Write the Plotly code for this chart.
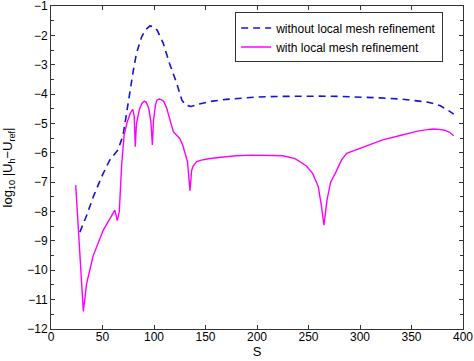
import plotly.graph_objects as go

s_without = [28, 35, 41, 50, 57, 65, 70, 73, 77, 80, 83, 88, 92, 96, 99, 103, 109, 115, 122, 127,
             131, 136, 145, 155, 170, 185, 200, 220, 240, 260, 280, 300, 320, 340, 355, 365, 372, 378, 384, 391]
err_without = [-8.7, -8.1, -7.5, -6.75, -6.25, -5.9, -5.4, -4.7, -3.86, -3.18, -2.61, -2.05, -1.8, -1.68, -1.7,
               -1.82, -2.27, -2.95, -3.63, -4.2, -4.38, -4.42, -4.33, -4.25, -4.18, -4.14, -4.1, -4.08, -4.07,
               -4.07, -4.08, -4.1, -4.13, -4.17, -4.22, -4.27, -4.33, -4.4, -4.52, -4.68]

s_with = [24, 31.4, 34.6, 41, 50.8, 56, 62, 64.4, 66.3, 68.6, 71, 74, 77, 79.3, 80.8, 81.8, 83, 86, 88.5, 90.6,
          92.5, 95, 97, 98.4, 99.5, 101.5, 103, 105.2, 107.5, 109.7, 112.5, 115.5, 118.8, 122, 125, 128, 130,
          132.5, 135, 136.5, 138, 141.4, 146, 153, 165, 180, 195, 212, 225, 237, 248, 254, 259.5, 262.5, 265,
          268, 271.5, 276, 282, 287, 300, 322, 340, 355, 365, 371, 377, 382, 387, 391]
err_with = [-7.1, -11.4, -10.45, -9.5, -8.63, -8.3, -7.95, -8.31, -8.0, -6.4, -5.4, -4.95, -4.65, -4.52, -4.75,
            -5.79, -5.0, -4.5, -4.3, -4.24, -4.28, -4.5, -4.95, -5.73, -4.9, -4.35, -4.2, -4.17, -4.2, -4.26,
            -4.5, -4.88, -5.28, -5.4, -5.51, -5.75, -5.96, -6.3, -7.29, -6.6, -6.45, -6.3, -6.25, -6.2, -6.15,
            -6.1, -6.08, -6.08, -6.1, -6.2, -6.45, -6.7, -7.15, -7.8, -8.46, -7.6, -7.0, -6.7, -6.25, -6.02,
            -5.85, -5.56, -5.4, -5.27, -5.21, -5.19, -5.2, -5.23, -5.3, -5.42]

x_ticks = [0, 50, 100, 150, 200, 250, 300, 350, 400]
y_ticks = [-1, -2, -3, -4, -5, -6, -7, -8, -9, -10, -11, -12]

fig = go.Figure()
fig.add_trace(go.Scatter(x=s_without, y=err_without, mode="lines",
                         name="without local mesh refinement",
                         line=dict(color="#1414d8", width=1.6, dash="7px,5px")))
fig.add_trace(go.Scatter(x=s_with, y=err_with, mode="lines",
                         name="with local mesh refinement",
                         line=dict(color="#ff00ff", width=1.4)))

axis_common = dict(showgrid=False, zeroline=False, showline=True, linecolor="#333", linewidth=1,
                   mirror="ticks", ticks="inside", ticklen=4, tickcolor="#333", automargin=False,
                   ticklabeloverflow="allow",
                   tickfont=dict(family="Liberation Sans, Arial, sans-serif", size=12, color="black"))

fig.update_xaxes(range=[0, 400], tickvals=x_ticks, ticktext=[str(v) for v in x_ticks],
                 ticklabelstandoff=-3,
                 title=dict(text="S", font=dict(family="Liberation Sans, Arial", size=13, color="black"),
                            standoff=0),
                 **axis_common)
fig.update_yaxes(range=[-12, -1], tickvals=y_ticks,
                 minor=dict(dtick=0.5, ticks="inside", ticklen=3, tickcolor="#333"),
                 title=dict(text="log<sub>10</sub> |U<sub>h</sub>−U<sub>ref</sub>|",
                            font=dict(family="Liberation Sans, Arial", size=13, color="black"),
                            standoff=11),
                 **axis_common)

fig.update_layout(
    width=474, height=361,
    margin=dict(l=51, r=11, t=6, b=32),
    plot_bgcolor="white", paper_bgcolor="white",
    font=dict(family="Liberation Sans, Arial, sans-serif", size=12, color="black"),
    legend=dict(x=0.447, y=0.98, xanchor="left", yanchor="top",
                bordercolor="#333", borderwidth=1, bgcolor="white",
                font=dict(size=12), tracegroupgap=0, itemwidth=30),
    showlegend=True,
)

fig.write_html("out.html", config={"displayModeBar": False},
               post_script="document.body.style.margin='0';")
